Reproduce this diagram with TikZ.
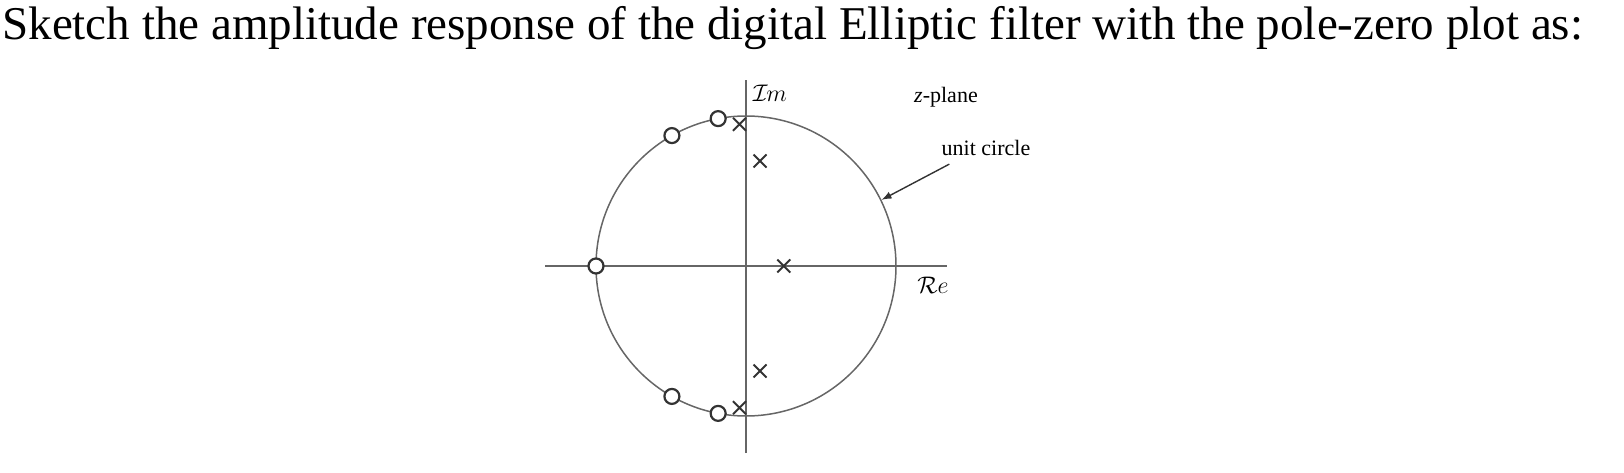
\documentclass[tikz,border=0pt]{standalone}
\usepackage{fontspec}
\setmainfont{Liberation Serif}
\usepackage{tikz}
\usetikzlibrary{arrows}
\usetikzlibrary{shapes.misc}

\definecolor{axisgray}{gray}{0.4}
\definecolor{markgray}{gray}{0.2}
\tikzset{
  zero/.style={circle,draw=markgray,line width=1.1pt,fill=white,
    minimum size=7.5pt,inner sep=0pt},
  pole/.style={cross out,draw=markgray,line width=1pt,
    minimum size=5.5pt,inner sep=0pt},
  lbl/.style={font=\fontsize{11}{13}\selectfont,inner sep=0pt}
}

\begin{document}
\begin{tikzpicture}[x=0.5pt,y=0.5pt]
    \useasboundingbox (0,0) rectangle (1624,472);
    \node[anchor=base west,inner sep=0pt,
      font=\fontsize{23.5}{28}\selectfont] (title) at (2,432)
      {Sketch the amplitude response of the digital Elliptic filter with the pole-zero plot as:};
    \begin{scope}[shift={(746,206)}]
      % axes and unit circle
      \coordinate (o) at (0,0);
      \coordinate (west) at (-201,0);
      \coordinate (east) at (201,0);
      \coordinate (south) at (0,-187);
      \coordinate (north) at (0,186);
      \draw[axisgray,line width=1pt] (west) -- (east);
      \draw[axisgray,line width=1pt] (south) -- (north);
      \draw[axisgray,line width=0.75pt] (o) circle (150);
      % zeros
      \node[zero] (z0) at (180:150) {};
      \node[zero] (z1) at (100.7:150) {};
      \node[zero] (z2) at (119.6:150) {};
      \node[zero] (z3) at (-100.7:150) {};
      \node[zero] (z4) at (-119.6:150) {};
      % poles
      \node[pole] (p0) at (37.8,0) {};
      \node[pole] (p1) at (14,105) {};
      \node[pole] (p2) at (-6.5,141.7) {};
      \node[pole] (p3) at (14,-105) {};
      \node[pole] (p4) at (-6.5,-141.7) {};
      % labels
      \node[lbl,font=\fontsize{12.5}{14}\selectfont] (im) at (24,173) {$\mathcal{I}\mkern-1mu m$};
      \node[lbl,font=\fontsize{12.5}{14}\selectfont] (re) at (187,-19) {$\mathcal{R}e$};
      \node[lbl] (zplane) at (200,169) {\textit{z}-plane};
      \node[lbl] (unit) at (240,118) {unit circle};
      \coordinate (tail) at ([shift={(8,-8)}]unit.south west);
      \coordinate (hit) at (26:151);
      \draw[-latex,line width=0.7pt,markgray] (tail) -- (hit);
    \end{scope}
\end{tikzpicture}
\end{document}
